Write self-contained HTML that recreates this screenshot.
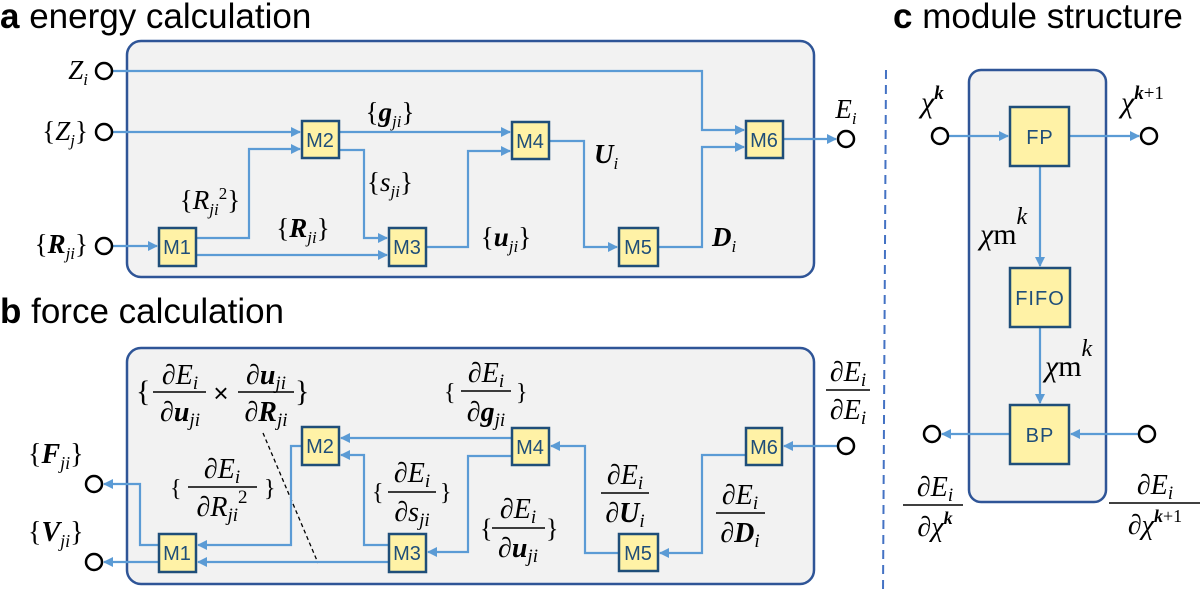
<!DOCTYPE html>
<html><head><meta charset="utf-8"><style>
html,body{margin:0;padding:0;background:#fff;}
svg{display:block;}
.t{font-family:"Liberation Sans",sans-serif;}
.m{font-family:"Liberation Serif",serif;font-style:italic;fill:#000;}
.mb{font-family:"Liberation Serif",serif;font-style:italic;font-weight:bold;}
.r{font-style:normal;}
.box{fill:#fff2a6;stroke:#1f4e79;stroke-width:2.5;}
.bl{font-family:"Liberation Sans",sans-serif;fill:#1f4e79;text-anchor:middle;}
.w{fill:none;stroke:#5b9bd5;stroke-width:2.2;}
.c{fill:#fff;stroke:#000;stroke-width:2.5;}
.fl{stroke:#000;stroke-width:1.6;}
</style></head><body>
<svg width="1200" height="594" viewBox="0 0 1200 594" xmlns="http://www.w3.org/2000/svg">
<defs>
<marker id="a" markerWidth="10" markerHeight="10" refX="9" refY="5" orient="auto" markerUnits="userSpaceOnUse">
<path d="M0,0 L10,5 L0,10 z" fill="#5b9bd5"/></marker>
</defs>
<!-- titles -->
<text x="0" y="28" class="t" font-size="35"><tspan font-weight="bold">a</tspan> energy calculation</text>
<text x="0" y="323" class="t" font-size="35"><tspan font-weight="bold">b</tspan> force calculation</text>
<text x="893" y="28" class="t" font-size="35"><tspan font-weight="bold">c</tspan> module structure</text>

<!-- panel a -->
<rect x="127" y="41" width="687" height="236" rx="14" fill="#f2f2f2" stroke="#2f5597" stroke-width="2.5"/>
<g class="w">
<path d="M112,71 H702 V130 H744" marker-end="url(#a)"/>
<path d="M112,132 H300" marker-end="url(#a)"/>
<path d="M112,246 H157" marker-end="url(#a)"/>
<path d="M196,238 H249 V149 H300" marker-end="url(#a)"/>
<path d="M196,255 H387" marker-end="url(#a)"/>
<path d="M339,150 H364 V238 H387" marker-end="url(#a)"/>
<path d="M339,132 H510" marker-end="url(#a)"/>
<path d="M426,247 H468 V151 H510" marker-end="url(#a)"/>
<path d="M549,141 H584 V247 H617" marker-end="url(#a)"/>
<path d="M658,247 H702 V147 H744" marker-end="url(#a)"/>
<path d="M783,139 H836" marker-end="url(#a)"/>
</g>
<circle class="c" cx="104" cy="71" r="8"/>
<circle class="c" cx="104" cy="132" r="8"/>
<circle class="c" cx="104" cy="246" r="8"/>
<circle class="c" cx="846" cy="139" r="8"/>
<g font-size="20">
<rect class="box" x="159" y="228" width="37" height="38"/><text class="bl" x="177" y="254">M1</text>
<rect class="box" x="302" y="121" width="37" height="37"/><text class="bl" x="320" y="147">M2</text>
<rect class="box" x="389" y="228" width="37" height="38"/><text class="bl" x="407" y="254">M3</text>
<rect class="box" x="512" y="122" width="37" height="37"/><text class="bl" x="530" y="148">M4</text>
<rect class="box" x="619" y="228" width="39" height="38"/><text class="bl" x="638" y="254">M5</text>
<rect class="box" x="746" y="121" width="37" height="37"/><text class="bl" x="764" y="147">M6</text>
</g>

<g font-size="27">
<text class="m" x="88" y="79" text-anchor="end">Z<tspan font-size="17" dy="6">i</tspan></text>
<text class="m" x="88" y="140" text-anchor="end"><tspan class="r">{</tspan>Z<tspan font-size="17" dy="6">j</tspan><tspan class="r" dy="-6">}</tspan></text>
<text class="m" x="88" y="253" text-anchor="end"><tspan class="r">{</tspan><tspan font-weight="bold">R</tspan><tspan font-size="17" dy="6">ji</tspan><tspan class="r" dy="-6">}</tspan></text>
<text class="m" x="390" y="121" text-anchor="middle"><tspan class="r">{</tspan><tspan font-weight="bold">g</tspan><tspan font-size="17" dy="6">ji</tspan><tspan class="r" dy="-6">}</tspan></text>
<text class="m" x="390" y="191" text-anchor="middle"><tspan class="r">{</tspan>s<tspan font-size="17" dy="6">ji</tspan><tspan class="r" dy="-6">}</tspan></text>
<text class="m" x="210" y="209" text-anchor="middle"><tspan class="r">{</tspan>R<tspan font-size="17" dy="6">ji</tspan><tspan font-size="17" class="r" dy="-16">2</tspan><tspan class="r" dy="10">}</tspan></text>
<text class="m" x="303" y="237" text-anchor="middle"><tspan class="r">{</tspan><tspan font-weight="bold">R</tspan><tspan font-size="17" dy="6">ji</tspan><tspan class="r" dy="-6">}</tspan></text>
<text class="m" x="506" y="246" text-anchor="middle"><tspan class="r">{</tspan><tspan font-weight="bold">u</tspan><tspan font-size="17" dy="6">ji</tspan><tspan class="r" dy="-6">}</tspan></text>
<text class="mb" x="594" y="163">U<tspan font-size="17" font-weight="normal" dy="6">i</tspan></text>
<text class="mb" x="712" y="246">D<tspan font-size="17" font-weight="normal" dy="6">i</tspan></text>
<text class="m" x="846" y="118" text-anchor="middle">E<tspan font-size="17" dy="6">i</tspan></text>
</g>

<!-- panel b -->
<rect x="127" y="348" width="687" height="236" rx="14" fill="#f2f2f2" stroke="#2f5597" stroke-width="2.5"/>
<line x1="263" y1="433" x2="318" y2="563" stroke="#000" stroke-width="1.3" stroke-dasharray="4,3"/>
<g class="w">
<path d="M838,446 H784" marker-end="url(#a)"/>
<path d="M746,455 H702 V553 H660" marker-end="url(#a)"/>
<path d="M619,553 H585 V446 H551" marker-end="url(#a)"/>
<path d="M512,438 H341" marker-end="url(#a)"/>
<path d="M512,456 H468 V552 H428" marker-end="url(#a)"/>
<path d="M389,545 H364 V455 H341" marker-end="url(#a)"/>
<path d="M389,562 H198" marker-end="url(#a)"/>
<path d="M302,446 H291 V545 H198" marker-end="url(#a)"/>
<path d="M159,545 H140 V484 H104" marker-end="url(#a)"/>
<path d="M159,562 H104" marker-end="url(#a)"/>
</g>
<circle class="c" cx="94" cy="484" r="8"/>
<circle class="c" cx="94" cy="562" r="8"/>
<circle class="c" cx="846" cy="446" r="8"/>
<g font-size="20">
<rect class="box" x="159" y="534" width="37" height="38"/><text class="bl" x="177" y="560">M1</text>
<rect class="box" x="302" y="427" width="37" height="38"/><text class="bl" x="320" y="453">M2</text>
<rect class="box" x="389" y="534" width="37" height="38"/><text class="bl" x="407" y="560">M3</text>
<rect class="box" x="512" y="428" width="37" height="37"/><text class="bl" x="530" y="454">M4</text>
<rect class="box" x="619" y="534" width="39" height="37"/><text class="bl" x="638" y="560">M5</text>
<rect class="box" x="746" y="428" width="36" height="37"/><text class="bl" x="764" y="454">M6</text>
</g>

<g font-size="28">
<text class="m" x="28" y="463"><tspan class="r">{</tspan><tspan font-weight="bold">F</tspan><tspan font-size="18" dy="6">ji</tspan><tspan class="r" dy="-6">}</tspan></text>
<text class="m" x="28" y="541"><tspan class="r">{</tspan><tspan font-weight="bold">V</tspan><tspan font-size="18" dy="6">ji</tspan><tspan class="r" dy="-6">}</tspan></text>

<!-- top-left formula -->
<text class="m r" x="136" y="401" font-size="30">{</text>
<text class="m" x="180" y="384" text-anchor="middle">∂E<tspan font-size="19" dy="5">i</tspan></text>
<line class="fl" x1="153" y1="392" x2="206" y2="392"/>
<text class="m" x="180" y="421" text-anchor="middle">∂<tspan font-weight="bold">u</tspan><tspan font-size="19" dy="5">ji</tspan></text>
<text x="221" y="402" font-family="Liberation Sans" font-size="26" text-anchor="middle">×</text>
<text class="m" x="266" y="384" text-anchor="middle">∂<tspan font-weight="bold">u</tspan><tspan font-size="19" dy="5">ji</tspan></text>
<line class="fl" x1="238" y1="392" x2="294" y2="392"/>
<text class="m" x="266" y="421" text-anchor="middle">∂<tspan font-weight="bold">R</tspan><tspan font-size="19" dy="5">ji</tspan></text>
<text class="m r" x="295" y="401" font-size="30">}</text>

<!-- dE/dg -->
<text class="m r" x="444" y="400" font-size="24">{</text>
<text class="m" x="486" y="382" text-anchor="middle">∂E<tspan font-size="19" dy="5">i</tspan></text>
<line class="fl" x1="461" y1="391" x2="511" y2="391"/>
<text class="m" x="486" y="421" text-anchor="middle">∂<tspan font-weight="bold">g</tspan><tspan font-size="19" dy="5">ji</tspan></text>
<text class="m r" x="516" y="400" font-size="24">}</text>

<!-- dE/dR^2 -->
<text class="m r" x="170" y="496" font-size="24">{</text>
<text class="m" x="222" y="478" text-anchor="middle">∂E<tspan font-size="19" dy="5">i</tspan></text>
<line class="fl" x1="188" y1="487" x2="257" y2="487"/>
<text class="m" x="222" y="516" text-anchor="middle">∂R<tspan font-size="19" dy="5">ji</tspan><tspan font-size="19" class="r" dy="-18">2</tspan></text>
<text class="m r" x="264" y="496" font-size="24">}</text>

<!-- dE/ds -->
<text class="m r" x="372" y="500" font-size="24">{</text>
<text class="m" x="412" y="482" text-anchor="middle">∂E<tspan font-size="19" dy="5">i</tspan></text>
<line class="fl" x1="388" y1="492" x2="436" y2="492"/>
<text class="m" x="412" y="521" text-anchor="middle">∂s<tspan font-size="19" dy="5">ji</tspan></text>
<text class="m r" x="440" y="500" font-size="24">}</text>

<!-- dE/du -->
<text class="m r" x="480" y="537" font-size="26">{</text>
<text class="m" x="518" y="518" text-anchor="middle">∂E<tspan font-size="19" dy="5">i</tspan></text>
<line class="fl" x1="492" y1="528" x2="545" y2="528"/>
<text class="m" x="518" y="557" text-anchor="middle">∂<tspan font-weight="bold">u</tspan><tspan font-size="19" dy="5">ji</tspan></text>
<text class="m r" x="546" y="537" font-size="26">}</text>

<!-- dE/dU -->
<text class="m" x="625" y="484" text-anchor="middle">∂E<tspan font-size="19" dy="5">i</tspan></text>
<line class="fl" x1="601" y1="493" x2="649" y2="493"/>
<text class="m" x="625" y="522" text-anchor="middle">∂<tspan font-weight="bold">U</tspan><tspan font-size="19" dy="5">i</tspan></text>
<!-- dE/dD -->
<text class="m" x="740" y="504" text-anchor="middle">∂E<tspan font-size="19" dy="5">i</tspan></text>
<line class="fl" x1="716" y1="513" x2="765" y2="513"/>
<text class="m" x="740" y="542" text-anchor="middle">∂<tspan font-weight="bold">D</tspan><tspan font-size="19" dy="5">i</tspan></text>
<!-- dE/dE -->
<text class="m" x="848" y="381" text-anchor="middle">∂E<tspan font-size="19" dy="5">i</tspan></text>
<line class="fl" x1="826" y1="390" x2="870" y2="390"/>
<text class="m" x="848" y="419" text-anchor="middle">∂E<tspan font-size="19" dy="5">i</tspan></text>
</g>

<!-- panel c -->
<line x1="886" y1="70" x2="883" y2="594" stroke="#4472c4" stroke-width="2" stroke-dasharray="9,6"/>
<rect x="969" y="70" width="137" height="432" rx="12" fill="#f2f2f2" stroke="#2f5597" stroke-width="2.5"/>
<g class="w">
<path d="M948,136 H1008" marker-end="url(#a)"/>
<path d="M1069,136 H1139" marker-end="url(#a)"/>
<path d="M1040,166 V266" marker-end="url(#a)"/>
<path d="M1040,327 V403" marker-end="url(#a)"/>
<path d="M1139,434 H1071" marker-end="url(#a)"/>
<path d="M1010,434 H942" marker-end="url(#a)"/>
</g>
<circle class="c" cx="940" cy="136" r="8"/>
<circle class="c" cx="1149" cy="136" r="8"/>
<circle class="c" cx="932" cy="434" r="8"/>
<circle class="c" cx="1147" cy="434" r="8"/>
<g font-size="20" letter-spacing="1">
<rect class="box" x="1010" y="107" width="59" height="59"/><text class="bl" x="1040" y="144">FP</text>
<rect class="box" x="1010" y="268" width="60" height="59"/><text class="bl" x="1040" y="305">FIFO</text>
<rect class="box" x="1010" y="405" width="59" height="59"/><text class="bl" x="1040" y="442">BP</text>
</g>
<g font-size="30">
<text class="m" x="921" y="112">χ<tspan font-size="19" font-weight="bold" dy="-13">k</tspan></text>
<text class="m" x="1121" y="112">χ<tspan font-size="19" dy="-13"><tspan font-weight="bold">k</tspan><tspan class="r">+1</tspan></tspan></text>
<text class="m" x="980" y="244">χ<tspan class="r">m</tspan><tspan font-size="24" dy="-20">k</tspan></text>
<text class="m" x="1045" y="376">χ<tspan class="r">m</tspan><tspan font-size="24" dy="-20">k</tspan></text>
</g>
<g font-size="28">
<text class="m" x="935" y="496" text-anchor="middle">∂E<tspan font-size="19" dy="5">i</tspan></text>
<line class="fl" x1="903" y1="505" x2="963" y2="505"/>
<text class="m" x="935" y="536" text-anchor="middle">∂χ<tspan font-size="18" font-weight="bold" dy="-12">k</tspan></text>
<text class="m" x="1155" y="494" text-anchor="middle">∂E<tspan font-size="19" dy="5">i</tspan></text>
<line class="fl" x1="1109" y1="503" x2="1200" y2="503"/>
<text class="m" x="1155" y="534" text-anchor="middle">∂χ<tspan font-size="18" dy="-12"><tspan font-weight="bold">k</tspan><tspan class="r">+1</tspan></tspan></text>
</g>
</svg>
</body></html>
